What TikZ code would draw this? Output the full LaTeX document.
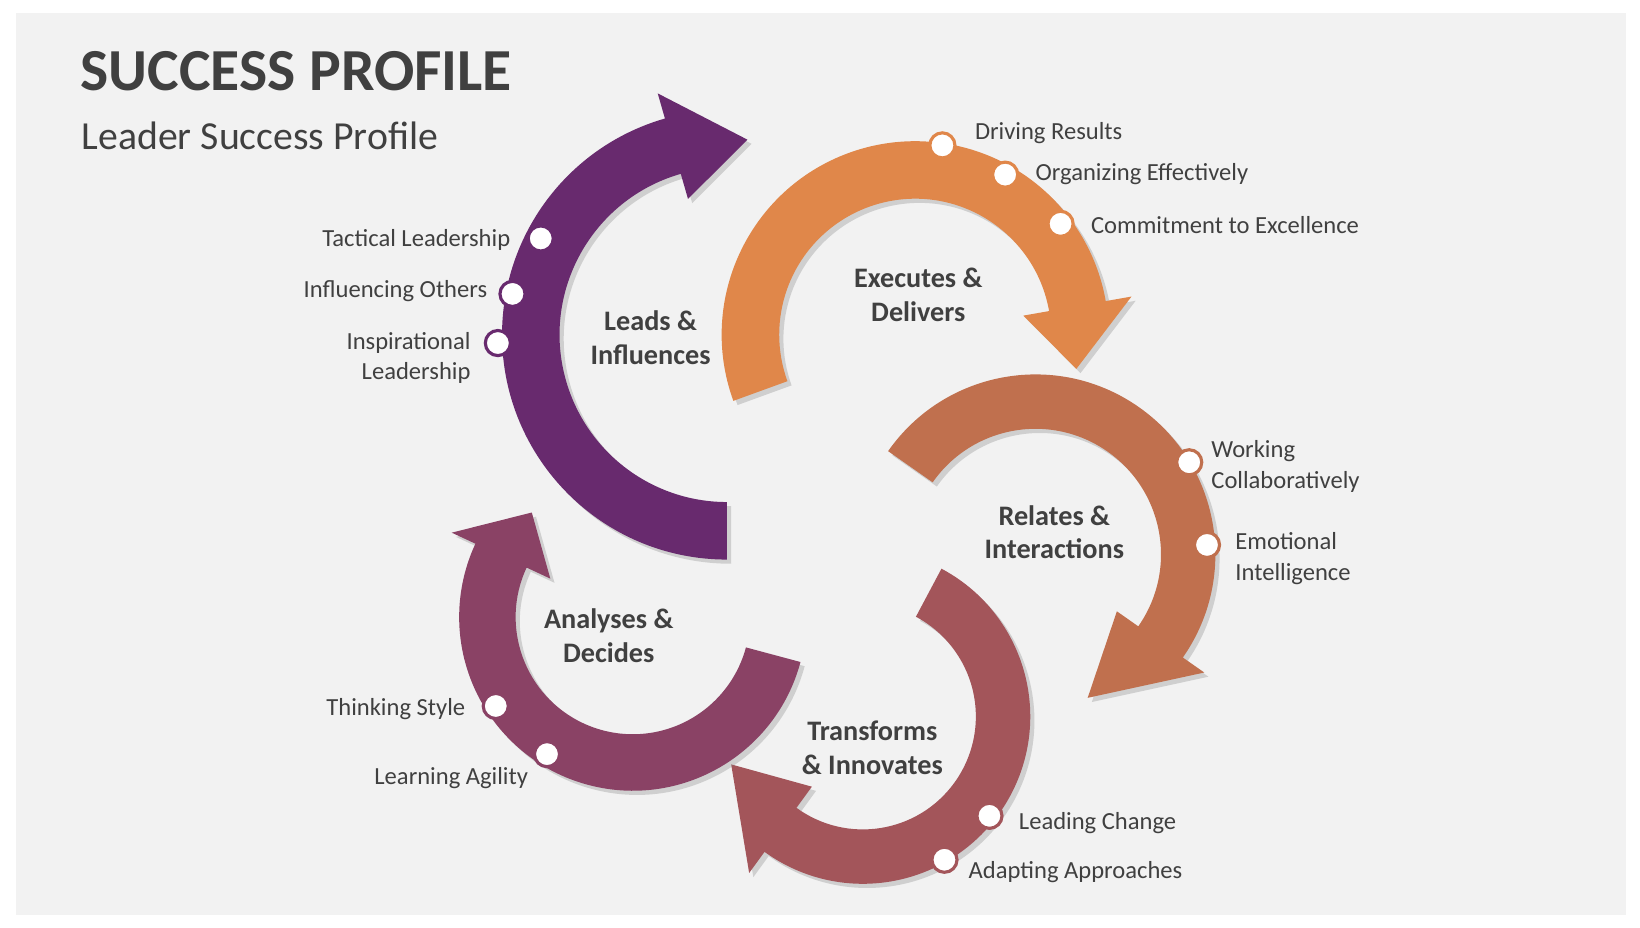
\documentclass[tikz,border=0pt]{standalone}
\usepackage{fontspec}
\setmainfont{Carlito}
\usetikzlibrary{shadows}
\definecolor{cP}{HTML}{682A6E}
\definecolor{cO}{HTML}{E0874A}
\definecolor{cR}{HTML}{C0704E}
\definecolor{cT}{HTML}{A3555A}
\definecolor{cA}{HTML}{8A4265}
\definecolor{txt}{HTML}{404040}
\definecolor{panel}{HTML}{F2F2F2}
\newcommand{\arcarrow}[7]{%
 \begin{scope}[shift={(#1)}]
 \fill[#7, drop shadow={opacity=0.3,shadow xshift=4pt,shadow yshift=-4pt}]
  ({#4}:{#3}) arc[start angle=#4, end angle=#5, radius=#3]
  -- ({#5}:{#3+25}) -- ({#6}:{(#2+#3)/2}) -- ({#5}:{#2-25}) -- ({#5}:{#2})
  arc[start angle=#5, end angle=#4, radius=#2] -- cycle;
 \end{scope}}
\begin{document}
\begin{tikzpicture}[x=1pt,y=1pt,
 dot/.style={circle,fill=white,draw=#1,line width=3pt,minimum size=24pt,inner sep=0pt},
 lab/.style={font=\fontsize{23.5}{29}\selectfont,text=txt,inner sep=2pt},
 ctr/.style={font=\fontsize{27}{32}\selectfont\bfseries,text=txt,align=center}]
\useasboundingbox (0,0) rectangle (1568,887);
\fill[white] (0,0) rectangle (1568,887);
\fill[panel] (15,12) rectangle (1555,875);
\node[anchor=west,font=\fontsize{57}{64}\selectfont\bfseries,text=txt,inner sep=0] (title) at (77,819) {SUCCESS PROFILE};
\node[anchor=west,font=\fontsize{38}{44}\selectfont,text=txt,inner sep=0] (sub) at (78,757) {Leader Success Profile};
\arcarrow{695,567}{160}{215}{270}{106}{84}{cP}
\arcarrow{875,567}{130}{185}{200}{10}{-12}{cO}
\arcarrow{990,357}{120}{172}{145}{-35}{-70}{cR}
\arcarrow{825,202}{108}{160}{62}{-126}{-160}{cT}
\arcarrow{605,297}{112}{166}{-15}{-205}{-226}{cA}
\node[dot=cP] (p1) at (517,659) {};
\node[dot=cP] (p2) at (490,606) {};
\node[dot=cP] (p3) at (476,559) {};
\node[dot=cO] (o1) at (901,748) {};
\node[dot=cO] (o2) at (961,720) {};
\node[dot=cO] (o3) at (1014,673) {};
\node[dot=cR] (r1) at (1137,445) {};
\node[dot=cR] (r2) at (1154,366) {};
\node[dot=cT] (t1) at (946,107) {};
\node[dot=cT] (t2) at (903,65) {};
\node[dot=cA] (a1) at (474,212) {};
\node[dot=cA] (a2) at (523,166) {};
\node[lab,anchor=east] (l1) at (490,658) {Tactical Leadership};
\node[lab,anchor=east] (l2) at (468,609) {Influencing Others};
\node[lab,anchor=east,align=right] (l3) at (452,545) {Inspirational\\Leadership};
\node[lab,anchor=west] (l4) at (930,760) {Driving Results};
\node[lab,anchor=west] (l5) at (988,721) {Organizing Effectively};
\node[lab,anchor=west] (l6) at (1041,672) {Commitment to Excellence};
\node[lab,anchor=west,align=left] (l7) at (1156,441) {Working\\Collaboratively};
\node[lab,anchor=west,align=left] (l8) at (1179,353) {Emotional\\Intelligence};
\node[lab,anchor=west] (l9) at (972,100) {Leading Change};
\node[lab,anchor=west] (l10) at (924,53) {Adapting Approaches};
\node[lab,anchor=east] (l11) at (447,209) {Thinking Style};
\node[lab,anchor=east] (l12) at (507,143) {Learning Agility};
\node[ctr] (c1) at (622,564) {Leads \&\\Influences};
\node[ctr] (c2) at (878,605) {Executes \&\\Delivers};
\node[ctr] (c3) at (1008,378) {Relates \&\\Interactions};
\node[ctr] (c4) at (582,279) {Analyses \&\\Decides};
\node[ctr] (c5) at (834,172) {Transforms\\\& Innovates};
\end{tikzpicture}
\end{document}
